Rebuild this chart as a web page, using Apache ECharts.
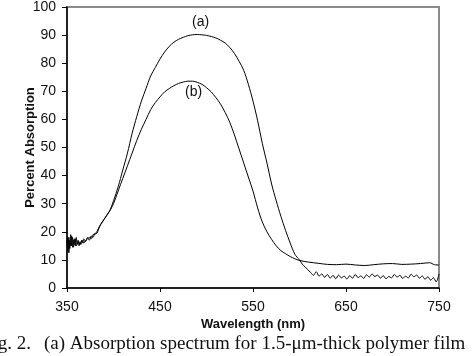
<!DOCTYPE html>
<html><head><meta charset="utf-8">
<script src="https://cdn.jsdelivr.net/npm/echarts@6/dist/echarts.min.js"></script>
<style>html,body{margin:0;padding:0;background:#fff}#c{width:474px;height:356px}</style>
</head><body><div id="c"></div>
<script>
// Curve (a)
const wlA = [350,351,352,353,354,355,356,357,358,359,360,361,362,363,364,365,366,367,368,370,372,374,376,378,380,382,384,386,388,390,393,396,
400,405,410,415,420,425,430,435,440,445,450,455,460,465,470,475,480,485,490,495,500,505,510,515,520,525,530,535,540,545,550,555,560,565,570,575,580,585,590,595,600,603,606,609,
612,615,618,621,624,627,630,633,636,639,642,645,648,651,654,657,660,663,666,669,672,675,678,681,684,687,690,693,696,699,702,705,708,711,714,717,720,723,726,729,732,735,738,741,744,747,750];
const absA = [17,13,18,14,19,15,18,14.5,17.5,15,18,15.5,17,15,16.5,15.5,17,16,17.5,16.5,18,17,18.5,18,19.5,19.5,21,22.5,23.5,24.5,26,27.5,
31,36,42,48,55,61,66.5,71,75.5,78.5,81.5,84,86,87.5,88.5,89.2,89.8,90.1,90.2,90.1,89.9,89.5,89,88.2,87.2,85.6,83.5,80.7,77.5,72.5,66.5,59.5,51.5,44.5,37,31,25.5,20.5,16,12,10,8.5,7.5,6.5,
5.5,4.5,5.8,4.2,5,3.8,4.8,3.5,4.5,3.3,4.6,3.6,4.2,3.2,4.4,3.5,4.8,3.7,4.3,3.4,4.7,3.9,5,4.1,4.6,3.5,4.4,3.3,4.1,3.6,4.8,3.9,4.5,3.4,4.2,3.6,4.9,4,4.6,3.5,4.3,3.1,4,2.8,3.6,2.2,5];
// Curve (b)
const wlB = [350,351,352,353,354,355,356,357,358,359,360,362,364,366,368,370,372,374,376,378,380,382,385,388,391,394,397,
400,405,410,415,420,425,430,435,440,445,450,455,460,465,470,475,480,485,490,495,500,505,510,515,520,525,530,535,540,545,550,555,560,565,570,575,580,585,590,595,600,
610,620,630,640,650,660,670,680,690,700,710,720,730,740,745,750];
const absB = [16,18,12.5,17,15,18.5,14.5,17,15.5,17.5,15,16.5,15.5,17,16,17,17.5,18,17.5,19,19,20,22,23.5,25,26.5,28,
30,34.5,39,43.5,48,52.5,56.5,60,63.5,66,68,69.8,71,72,72.8,73.3,73.6,73.6,73.2,72.5,71.3,69.8,67.8,65.5,62.5,59,54.5,49.5,44.5,39.5,34.5,28.5,23.5,20,17.3,15,13.3,12.2,11.2,10.4,9.8,
9.2,8.8,8.4,8.3,8.5,8.2,8.0,8.3,8.6,8.7,8.4,8.5,8.7,9,8.3,8.2];
const yTicks = [0,10,20,30,40,50,60,70,80,90,100];
const xTicks = [350,450,550,650,750];

const chart = echarts.init(document.getElementById('c'), null, {renderer:'canvas'});
const font = 'Liberation Sans, Arial, sans-serif';
chart.setOption({
  animation:false,
  grid:{left:67,right:35,top:4,bottom:68,show:true,borderColor:'#8a8a8a',borderWidth:2,backgroundColor:'transparent'},
  xAxis:{type:'value',min:350,max:750,interval:100,
    name:'Wavelength (nm)',nameLocation:'middle',nameGap:30,nameMoveOverlap:false,
    nameTextStyle:{fontFamily:font,fontWeight:'bold',fontSize:13,color:'#111'},
    axisLine:{lineStyle:{color:'#000',width:1.5}},
    axisTick:{show:true,length:4,lineStyle:{color:'#000'}},
    axisLabel:{margin:12,fontFamily:font,fontSize:14,color:'#111',
      formatter:v=>xTicks.includes(v)?String(v):''},
    splitLine:{show:false}},
  yAxis:{type:'value',min:0,max:100,interval:10,
    name:'Percent Absorption',nameLocation:'middle',nameGap:30,nameMoveOverlap:false,
    nameTextStyle:{fontFamily:font,fontWeight:'bold',fontSize:13,color:'#111'},
    axisLine:{show:true,lineStyle:{color:'#000',width:1.5}},
    axisTick:{show:true,length:5,lineStyle:{color:'#000'}},
    axisLabel:{margin:11,fontFamily:font,fontSize:14,color:'#111',
      formatter:v=>yTicks.includes(v)?String(v):''},
    splitLine:{show:false}},
  series:[
    {type:'line',data:wlA.map((w,i)=>[w,absA[i]]),showSymbol:false,smooth:0.3,lineStyle:{color:'#000',width:1},z:3},
    {type:'line',data:wlB.map((w,i)=>[w,absB[i]]),showSymbol:false,smooth:0.3,lineStyle:{color:'#000',width:1},z:3}
  ],
  graphic:[
    {type:'text',left:192,top:15,style:{text:'(a)',font:'14px '+font,fill:'#111'}},
    {type:'text',left:185,top:85,style:{text:'(b)',font:'14px '+font,fill:'#111'}},
    {type:'text',x:-18,y:335,style:{text:'Fig. 2.',font:'19px "Liberation Serif", serif',fill:'#111'}},
    {type:'text',x:44,y:335,style:{text:'(a) Absorption spectrum for 1.5-\u03bcm-thick polymer film',font:'19px "Liberation Serif", serif',fill:'#111'}}
  ]
});
</script></body></html>
